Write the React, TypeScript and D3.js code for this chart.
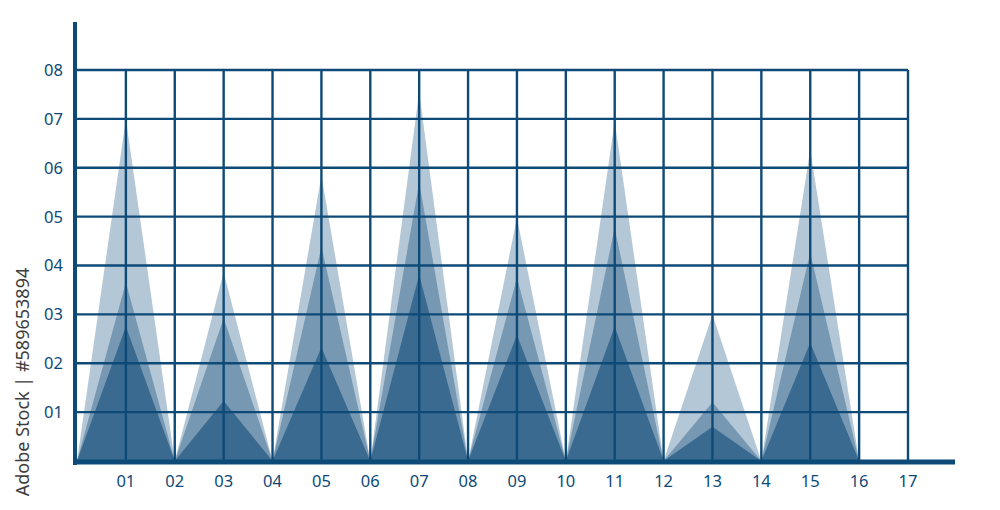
import React from "react";
import * as d3 from "d3";

const xTicks = ["01","02","03","04","05","06","07","08","09","10","11","12","13","14","15","16","17"];
const yTicks = ["01","02","03","04","05","06","07","08"];
const peakPositions = [1, 3, 5, 7, 9, 11, 13, 15];
const lightSeries = [7.0, 3.86, 5.84, 7.55, 4.98, 6.95, 2.99, 6.37];
const mediumSeries = [3.65, 2.92, 4.38, 5.7, 3.75, 4.77, 1.2, 4.26];
const darkSeries = [2.75, 1.23, 2.32, 3.81, 2.58, 2.75, 0.7, 2.42];
const watermark = "Adobe Stock | #589653894";

const INK = "#0d4a77";
const FONT = "'Noto Sans', 'Open Sans', sans-serif";

export default function App() {
  const W = 1000, H = 510;
  const x = d3.scaleLinear().domain([0, 17]).range([77, 908]);
  const y = d3.scaleLinear().domain([0, 8]).range([461, 70]);
  const line = d3.line<[number, number]>().x(d => x(d[0])).y(d => y(d[1]));

  const layers = [
    { data: lightSeries, fill: "#b4c7d6" },
    { data: mediumSeries, fill: "#7798b3" },
    { data: darkSeries, fill: "#3a6a8f" },
  ];

  return (
    <svg width={W} height={H} style={{ position: "absolute", left: 0, top: 0, background: "#fff" }}>
      {layers.map((L, li) => (
        <g key={li}>
          {peakPositions.map((p, i) => (
            <path key={i} d={(line([[p - 1, 0], [p, L.data[i]], [p + 1, 0]]) || "") + "Z"} fill={L.fill} />
          ))}
        </g>
      ))}
      {yTicks.map((t, i) => (
        <line key={"h" + t} x1={x(0)} x2={x(17)} y1={y(i + 1)} y2={y(i + 1)} stroke={INK} strokeWidth={2.4} />
      ))}
      {xTicks.map((t, i) => (
        <line key={"v" + t} x1={x(i + 1)} x2={x(i + 1)} y1={y(8)} y2={y(0)} stroke={INK} strokeWidth={2.4} />
      ))}
      <line x1={75} x2={75} y1={22} y2={465} stroke={INK} strokeWidth={4} />
      <line x1={73} x2={955} y1={462} y2={462} stroke={INK} strokeWidth={5} />
      {yTicks.map((t, i) => (
        <text key={"yl" + t} x={63} y={y(i + 1)} dy="0.36em" textAnchor="end" fill={INK} fontSize={16.5} fontFamily={FONT}>{t}</text>
      ))}
      {xTicks.map((t, i) => (
        <text key={"xl" + t} x={x(i + 1)} y={487} textAnchor="middle" fill={INK} fontSize={16.5} fontFamily={FONT}>{t}</text>
      ))}
      <text transform="translate(29,382) rotate(-90)" textAnchor="middle" fill="#3d3d3d" fontSize={18} fontFamily={FONT}>{watermark}</text>
    </svg>
  );
}
